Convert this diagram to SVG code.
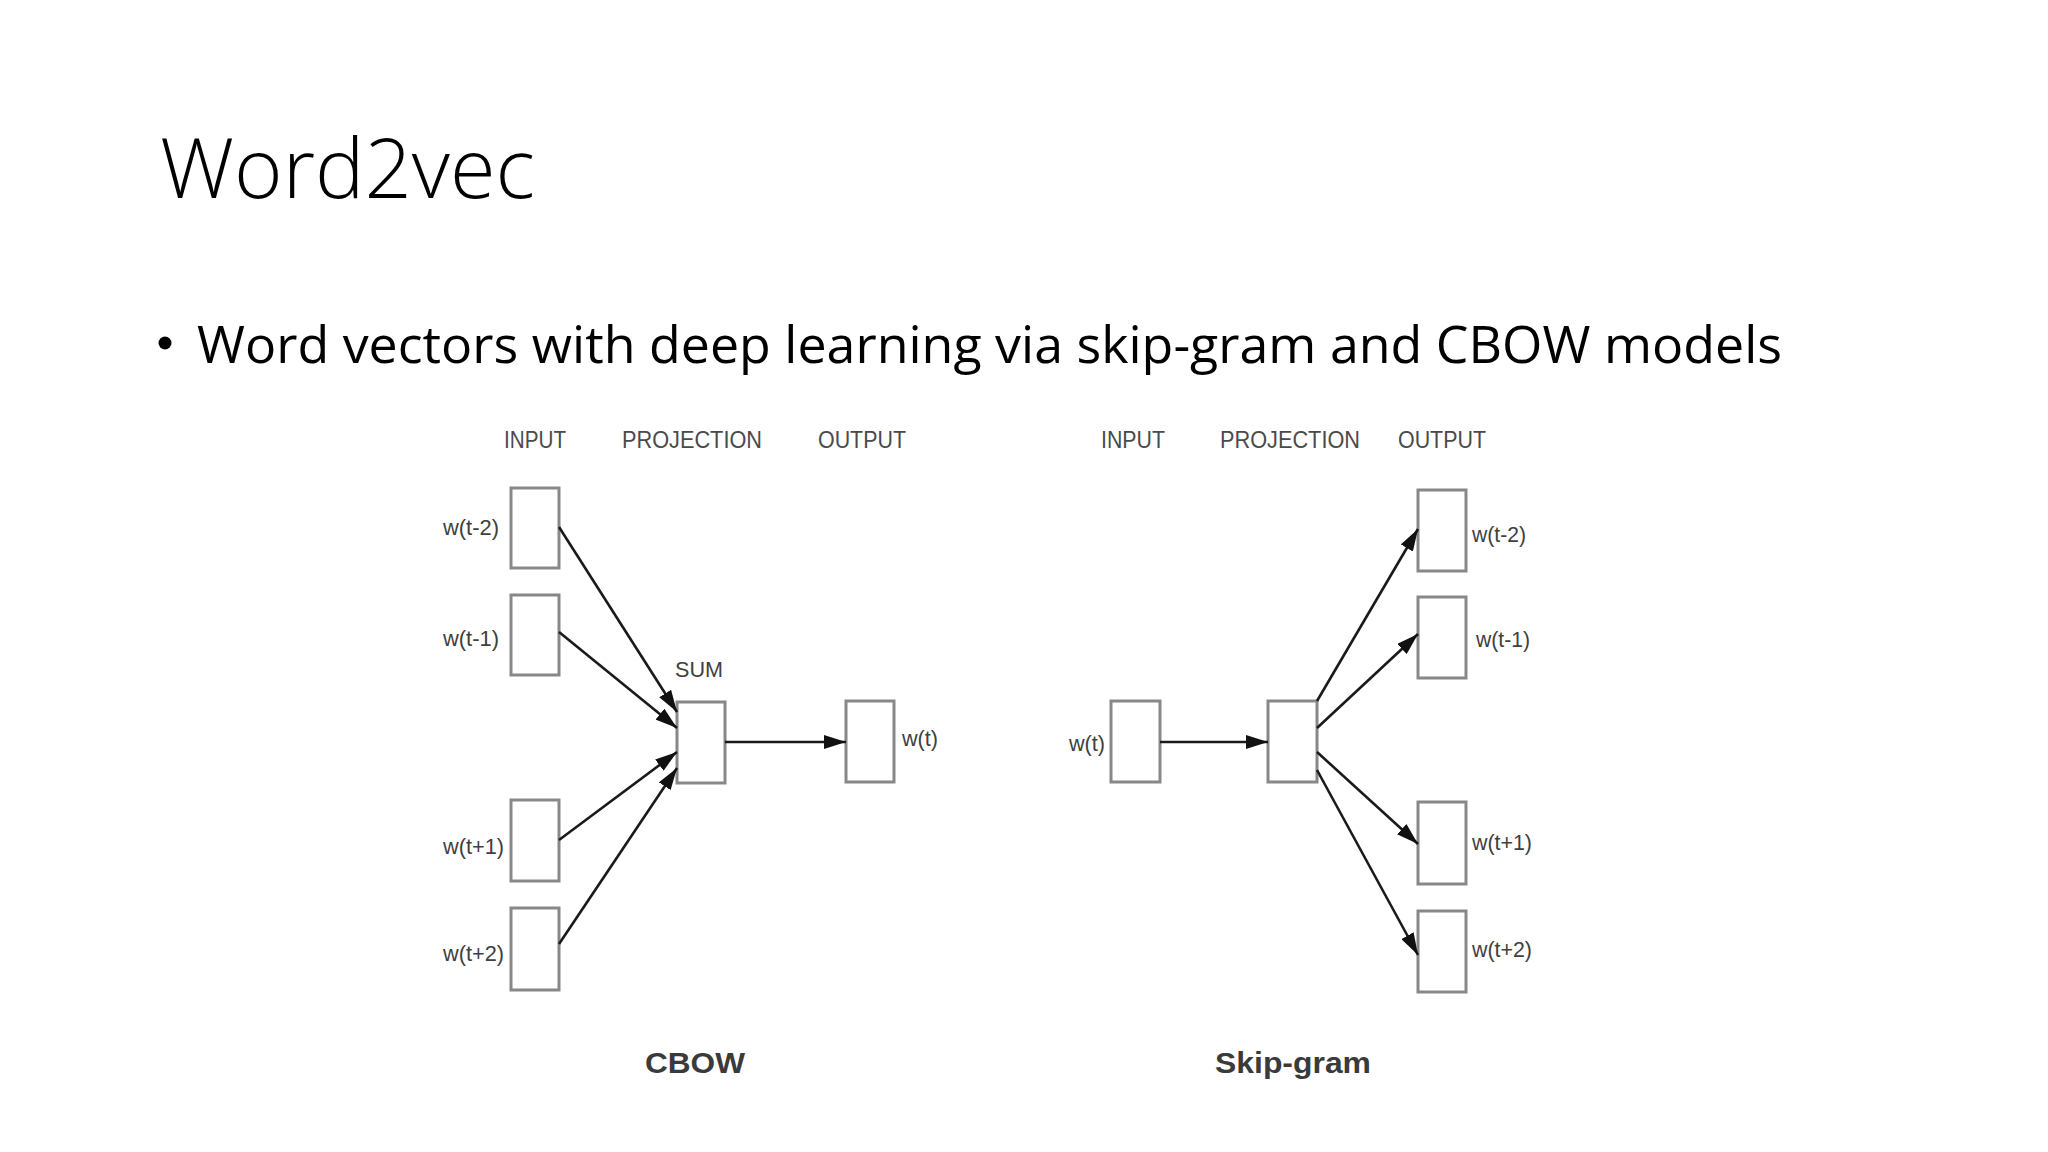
<svg xmlns="http://www.w3.org/2000/svg" width="2048" height="1152" viewBox="0 0 2048 1152">
<style>
.title{font-family:"Open Sans","Liberation Sans",sans-serif;font-weight:300;fill:#000}
.bullet{font-family:"Open Sans","Liberation Sans",sans-serif;fill:#000}
.hdr{font-family:"Liberation Sans",Arial,sans-serif;font-size:23px;fill:#4a4a4a}
.lbl{font-family:"Liberation Sans",Arial,sans-serif;font-size:22px;fill:#404040;dominant-baseline:central}
.cap{font-family:"Liberation Sans",Arial,sans-serif;font-size:29px;font-weight:bold;fill:#3a3a3a}
.box{fill:#fff;stroke:#888;stroke-width:3}
.arr{stroke:#1a1a1a;stroke-width:2.6;fill:none;marker-end:url(#ah)}
</style>
<defs>
<marker id="ah" viewBox="0 0 22 14" refX="22" refY="7" markerWidth="22" markerHeight="14" markerUnits="userSpaceOnUse" orient="auto">
<path d="M0,0 L22,7 L0,14 Z" fill="#111"/>
</marker>
</defs>
<rect width="2048" height="1152" fill="#fff"/>
<text class="title" x="160" y="198" font-size="83" textLength="375" lengthAdjust="spacingAndGlyphs">Word2vec</text>
<circle cx="165" cy="343" r="6.5" fill="#000"/>
<text class="bullet" x="197" y="363" font-size="52" textLength="1585" lengthAdjust="spacingAndGlyphs">Word vectors with deep learning via skip-gram and CBOW models</text>

<g id="cbow-headers">
<text class="hdr" x="504" y="448" textLength="62" lengthAdjust="spacingAndGlyphs">INPUT</text>
<text class="hdr" x="622" y="448" textLength="140" lengthAdjust="spacingAndGlyphs">PROJECTION</text>
<text class="hdr" x="818" y="448" textLength="88" lengthAdjust="spacingAndGlyphs">OUTPUT</text>
</g>
<g id="cbow-in-t-2"><rect class="box" x="511" y="488" width="48" height="80"/><text class="lbl" x="443" y="527" textLength="56" lengthAdjust="spacingAndGlyphs">w(t-2)</text></g>
<g id="cbow-in-t-1"><rect class="box" x="511" y="595" width="48" height="80"/><text class="lbl" x="443" y="638" textLength="56" lengthAdjust="spacingAndGlyphs">w(t-1)</text></g>
<g id="cbow-in-t+1"><rect class="box" x="511" y="800" width="48" height="81"/><text class="lbl" x="443" y="846" textLength="61" lengthAdjust="spacingAndGlyphs">w(t+1)</text></g>
<g id="cbow-in-t+2"><rect class="box" x="511" y="908" width="48" height="82"/><text class="lbl" x="443" y="953" textLength="61" lengthAdjust="spacingAndGlyphs">w(t+2)</text></g>
<g id="cbow-sum"><rect class="box" x="677" y="702" width="48" height="81"/><text class="lbl" x="675" y="669" textLength="48" lengthAdjust="spacingAndGlyphs">SUM</text></g>
<g id="cbow-out"><rect class="box" x="846" y="701" width="48" height="81"/><text class="lbl" x="902" y="738" textLength="36" lengthAdjust="spacingAndGlyphs">w(t)</text></g>
<text class="cap" x="645" y="1073" textLength="100" lengthAdjust="spacingAndGlyphs">CBOW</text>

<g id="sg-headers">
<text class="hdr" x="1101" y="448" textLength="64" lengthAdjust="spacingAndGlyphs">INPUT</text>
<text class="hdr" x="1220" y="448" textLength="140" lengthAdjust="spacingAndGlyphs">PROJECTION</text>
<text class="hdr" x="1398" y="448" textLength="88" lengthAdjust="spacingAndGlyphs">OUTPUT</text>
</g>
<g id="sg-in"><rect class="box" x="1111" y="701" width="49" height="81"/><text class="lbl" x="1069" y="743" textLength="36" lengthAdjust="spacingAndGlyphs">w(t)</text></g>
<g id="sg-proj"><rect class="box" x="1268" y="701" width="49" height="81"/></g>
<g id="sg-out-t-2"><rect class="box" x="1418" y="490" width="48" height="81"/><text class="lbl" x="1472" y="534" textLength="54" lengthAdjust="spacingAndGlyphs">w(t-2)</text></g>
<g id="sg-out-t-1"><rect class="box" x="1418" y="597" width="48" height="81"/><text class="lbl" x="1476" y="639" textLength="54" lengthAdjust="spacingAndGlyphs">w(t-1)</text></g>
<g id="sg-out-t+1"><rect class="box" x="1418" y="802" width="48" height="82"/><text class="lbl" x="1472" y="842" textLength="60" lengthAdjust="spacingAndGlyphs">w(t+1)</text></g>
<g id="sg-out-t+2"><rect class="box" x="1418" y="911" width="48" height="81"/><text class="lbl" x="1472" y="949" textLength="60" lengthAdjust="spacingAndGlyphs">w(t+2)</text></g>
<text class="cap" x="1215" y="1073" textLength="156" lengthAdjust="spacingAndGlyphs">Skip-gram</text>

<g id="connectors">
<line class="arr" x1="559" y1="527" x2="677" y2="712"/>
<line class="arr" x1="559" y1="632" x2="677" y2="728"/>
<line class="arr" x1="559" y1="840" x2="677" y2="752"/>
<line class="arr" x1="559" y1="944" x2="677" y2="768"/>
<line class="arr" x1="725" y1="742" x2="846" y2="742"/>
<line class="arr" x1="1160" y1="742" x2="1268" y2="742"/>
<line class="arr" x1="1317" y1="701" x2="1418" y2="529"/>
<line class="arr" x1="1317" y1="728" x2="1418" y2="634"/>
<line class="arr" x1="1317" y1="752" x2="1418" y2="844"/>
<line class="arr" x1="1317" y1="770" x2="1418" y2="955"/>
</g>
</svg>
